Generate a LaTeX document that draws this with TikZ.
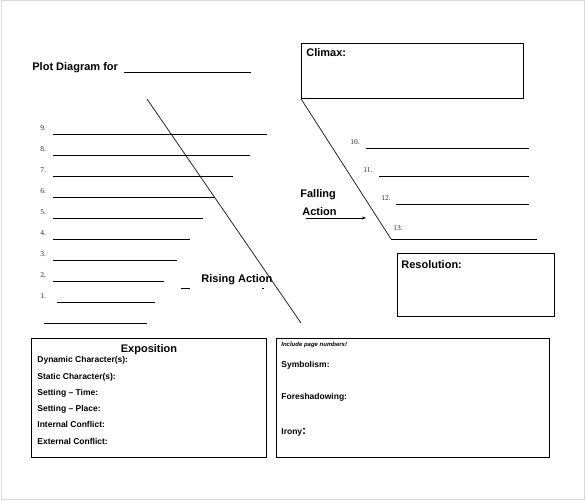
\documentclass[tikz,border=0pt]{standalone}
\usepackage{fontspec}
\setmainfont{Liberation Sans}
\newfontfamily\numfont{Liberation Serif}
\usetikzlibrary{arrows.meta, positioning}
\definecolor{numgray}{RGB}{40,42,72}

\begin{document}
\begin{tikzpicture}[
  x=1pt, y=-1pt,
  line width=0.8pt,
  box/.style={draw, inner sep=0pt, anchor=north west},
  title/.style={font=\fontsize{11}{13}\selectfont\bfseries, inner sep=0pt, anchor=base west},
  item/.style={font=\fontsize{8.5}{10}\selectfont\bfseries, inner sep=0pt, anchor=base west},
  num/.style={font=\numfont\fontsize{7.5}{9}\selectfont, text=numgray, inner sep=0pt, anchor=base west},
  blank/.style={line width=0.9pt},
  slope/.style={line width=0.8pt, black!85},
  arrow/.style={-{Stealth[length=4pt, width=3pt]}, line width=0.7pt}
]
\useasboundingbox (0,0) rectangle (585,500);
\draw[black!15, line width=1pt] (1,1) rectangle (584,499);

% Heading
\node[title] (heading) at (32,71) {Plot Diagram for};
\coordinate (hs) at (124,72);
\coordinate (he) at (251,72);
\draw[blank] (hs) -- (he);

% Rising action
\coordinate (risestart) at (147,99);
\coordinate (riseend) at (301,323);
\draw[slope] (risestart) -- (riseend);
\foreach \n/\y/\xe in {9/134/267, 8/155/250, 7/176/233, 6/197/215,
                       5/218/203, 4/239/190, 3/260/177, 2/281/164}{
  \node[num] (n\n) at (40,\y-4) {\n.};
  \coordinate (ls\n) at (53,\y);
  \coordinate (le\n) at (\xe,\y);
  \draw[blank] (ls\n) -- (le\n);
}
\node[num] (n1) at (40,298) {1.};
\coordinate (ls1) at (57,302);
\coordinate (le1) at (155,302);
\draw[blank] (ls1) -- (le1);
\coordinate (ls0) at (44,323);
\coordinate (le0) at (147,323);
\draw[blank] (ls0) -- (le0);
\coordinate (ds) at (181,288);
\coordinate (de) at (190,288);
\draw[blank] (ds) -- (de);
\coordinate (dots) at (262,288);
\coordinate (dote) at (264,288);
\draw[blank] (dots) -- (dote);
\node[title] (rising) at (201,282) {Rising Action};

% Climax
\node[box, minimum width=222, minimum height=55] (climax) at (301,43) {};
\node[title] (climaxtext) at (306,57) {Climax:};

% Falling action
\coordinate (fallend) at (391,239);
\coordinate (baseend) at (537,239);
\draw[slope] (climax.south west) -- (fallend);
\draw[blank] (fallend) -- (baseend);
\foreach \n/\y/\xl/\xs in {10/148/350/366, 11/176/363/379, 12/204/381/396}{
  \node[num] (n\n) at (\xl,\y-4) {\n.};
  \coordinate (ls\n) at (\xs,\y);
  \coordinate (le\n) at (529,\y);
  \draw[blank] (ls\n) -- (le\n);
}
\node[num] (n13) at (393,230) {13.};
\node[title] (falling) at (300,197) {Falling};
\node[title] (action) at (302,215) {Action};
\coordinate (as) at (306,218);
\coordinate (ae) at (366,218);
\draw[arrow] (as) -- (ae);

% Resolution
\node[box, minimum width=157, minimum height=63] (resolution) at (397,253) {};
\node[title] (restext) at (401,268) {Resolution:};

% Exposition
\node[box, minimum width=235, minimum height=119] (exposition) at (31,338) {};
\node[title, anchor=base] (exptext) at (149,352) {Exposition};
\foreach \t/\y in {Dynamic Character(s):/362, Static Character(s):/379,
                   Setting -- Time:/395, Setting -- Place:/411,
                   Internal Conflict:/427, External Conflict:/444}{
  \node[item] at (37,\y) {\t};
}

% Literary devices
\node[box, minimum width=273, minimum height=119] (devices) at (276,338) {};
\node[item, font=\fontsize{6}{7}\selectfont\bfseries\itshape] (pages) at (281,346) {Include page numbers!};
\node[item] (symbolism) at (281,367) {Symbolism:};
\node[item] (foreshadow) at (281,399) {Foreshadowing:};
\node[item] (irony) at (281,434) {Irony{\fontsize{12}{14}\selectfont:}};

\end{tikzpicture}
\end{document}
